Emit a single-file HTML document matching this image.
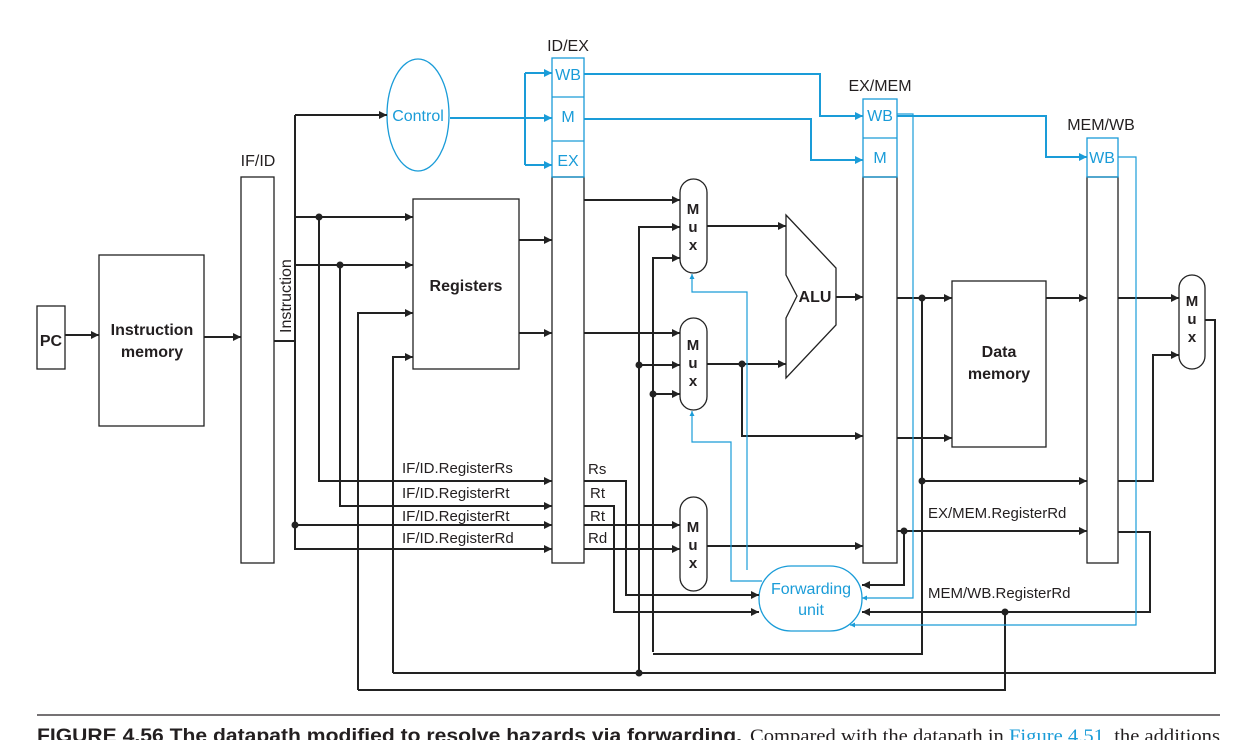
<!DOCTYPE html>
<html><head><meta charset="utf-8"><style>
body{margin:0;background:#fff;}
svg{display:block;font-family:"Liberation Sans",sans-serif;}
</style></head><body>
<svg width="1234" height="740" viewBox="0 0 1234 740" xmlns="http://www.w3.org/2000/svg">
<defs>
<marker id="ab" viewBox="0 0 10 10" refX="10" refY="5" markerWidth="7" markerHeight="5" markerUnits="userSpaceOnUse" orient="auto"><path d="M0,0L10,5L0,10z" fill="#1a9cd8"/></marker>
<marker id="ab2" viewBox="0 0 10 10" refX="10" refY="5" markerWidth="12" markerHeight="8" markerUnits="userSpaceOnUse" orient="auto"><path d="M0,0L10,5L0,10z" fill="#1a9cd8"/></marker>
<marker id="a2" viewBox="0 0 10 10" refX="10" refY="5" markerWidth="12" markerHeight="8" markerUnits="userSpaceOnUse" orient="auto"><path d="M0,0L10,5L0,10z" fill="#222"/></marker>
</defs>
<g fill="none" stroke="#222" stroke-width="1.3">
<rect x="37" y="306" width="28" height="63"/>
<rect x="99" y="255" width="105" height="171"/>
<rect x="241" y="177" width="33" height="386"/>
<rect x="413" y="199" width="106" height="170"/>
<rect x="552" y="177" width="32" height="386"/>
<rect x="863" y="177" width="34" height="386"/>
<rect x="952" y="281" width="94" height="166"/>
<rect x="1087" y="177" width="31" height="386"/>
<rect x="680" y="179" width="27" height="94" rx="13.5"/>
<rect x="680" y="318" width="27" height="92" rx="13.5"/>
<rect x="680" y="497" width="27" height="94" rx="13.5"/>
<rect x="1179" y="275" width="26" height="94" rx="13"/>
<path d="M786,215L836,268L836,325L786,378L786,318L797,296L786,275Z"/>
</g>
<g fill="none" stroke="#1a9cd8" stroke-width="1.3">
<ellipse cx="418" cy="115" rx="31" ry="56"/>
<rect x="552" y="58" width="32" height="119"/><line x1="552" y1="97" x2="584" y2="97"/><line x1="552" y1="141" x2="584" y2="141"/>
<rect x="863" y="99" width="34" height="78"/><line x1="863" y1="138" x2="897" y2="138"/>
<rect x="1087" y="138" width="31" height="39"/>
<rect x="759" y="566" width="103" height="65" rx="32"/>
</g>
<g fill="none" stroke="#222" stroke-width="2">
<line x1="65" y1="335" x2="99" y2="335" marker-end="url(#a2)"/>
<line x1="204" y1="337" x2="241" y2="337" marker-end="url(#a2)"/>
<polyline points="274,341 295,341"/>
<polyline points="295,115 295,546"/>
<line x1="295" y1="115" x2="387" y2="115" marker-end="url(#a2)"/>
<line x1="295" y1="217" x2="413" y2="217" marker-end="url(#a2)"/>
<line x1="295" y1="265" x2="413" y2="265" marker-end="url(#a2)"/>
<polyline points="358,690 358,313 413,313" marker-end="url(#a2)"/>
<polyline points="393,673 393,357 413,357" marker-end="url(#a2)"/>
<polyline points="319,217 319,481 552,481" marker-end="url(#a2)"/>
<polyline points="340,265 340,506 552,506" marker-end="url(#a2)"/>
<line x1="295" y1="525" x2="552" y2="525" marker-end="url(#a2)"/>
<polyline points="295,546 295,549 552,549" marker-end="url(#a2)"/>
<line x1="519" y1="240" x2="552" y2="240" marker-end="url(#a2)"/>
<line x1="519" y1="333" x2="552" y2="333" marker-end="url(#a2)"/>
<line x1="584" y1="200" x2="680" y2="200" marker-end="url(#a2)"/>
<line x1="584" y1="333" x2="680" y2="333" marker-end="url(#a2)"/>
<polyline points="639,673 639,227 680,227" marker-end="url(#a2)"/>
<polyline points="653,652 653,258 680,258" marker-end="url(#a2)"/>
<line x1="639" y1="365" x2="680" y2="365" marker-end="url(#a2)"/>
<line x1="653" y1="394" x2="680" y2="394" marker-end="url(#a2)"/>
<line x1="707" y1="226" x2="786" y2="226" marker-end="url(#a2)"/>
<line x1="707" y1="364" x2="786" y2="364" marker-end="url(#a2)"/>
<polyline points="742,364 742,436 863,436" marker-end="url(#a2)"/>
<line x1="836" y1="297" x2="863" y2="297" marker-end="url(#a2)"/>
<polyline points="584,481 626,481 626,595 759,595" marker-end="url(#a2)"/>
<polyline points="584,506 614,506 614,612 759,612" marker-end="url(#a2)"/>
<line x1="584" y1="525" x2="680" y2="525" marker-end="url(#a2)"/>
<line x1="584" y1="549" x2="680" y2="549" marker-end="url(#a2)"/>
<line x1="707" y1="546" x2="863" y2="546" marker-end="url(#a2)"/>
<line x1="897" y1="298" x2="952" y2="298" marker-end="url(#a2)"/>
<line x1="897" y1="438" x2="952" y2="438" marker-end="url(#a2)"/>
<polyline points="922,298 922,654 653,654"/>
<line x1="922" y1="481" x2="1087" y2="481" marker-end="url(#a2)"/>
<line x1="1046" y1="298" x2="1087" y2="298" marker-end="url(#a2)"/>
<line x1="897" y1="531" x2="1087" y2="531" marker-end="url(#a2)"/>
<polyline points="904,531 904,585 862,585" marker-end="url(#a2)"/>
<line x1="1118" y1="298" x2="1179" y2="298" marker-end="url(#a2)"/>
<polyline points="1118,481 1153,481 1153,355 1179,355" marker-end="url(#a2)"/>
<polyline points="1118,532 1150,532 1150,612 862,612" marker-end="url(#a2)"/>
<polyline points="1005,612 1005,690 358,690"/>
<polyline points="1205,320 1215,320 1215,673 393,673"/>
</g>
<g fill="#222">
<circle cx="319" cy="217" r="3.5"/><circle cx="340" cy="265" r="3.5"/><circle cx="295" cy="525" r="3.5"/>
<circle cx="639" cy="365" r="3.5"/><circle cx="653" cy="394" r="3.5"/><circle cx="639" cy="673" r="3.5"/>
<circle cx="742" cy="364" r="3.5"/><circle cx="922" cy="298" r="3.5"/><circle cx="922" cy="481" r="3.5"/>
<circle cx="904" cy="531" r="3.5"/><circle cx="1005" cy="612" r="3.5"/>
</g>
<g fill="none" stroke="#1a9cd8" stroke-width="2">
<line x1="450" y1="118" x2="552" y2="118" marker-end="url(#ab2)"/>
<polyline points="525,73 525,165"/>
<line x1="525" y1="73" x2="552" y2="73" marker-end="url(#ab2)"/>
<line x1="525" y1="165" x2="552" y2="165" marker-end="url(#ab2)"/>
<polyline points="584,74 820,74 820,116 863,116" marker-end="url(#ab2)"/>
<polyline points="584,119 811,119 811,160 863,160" marker-end="url(#ab2)"/>
<polyline points="897,116 1046,116 1046,157 1087,157" marker-end="url(#ab2)"/>
</g>
<g fill="none" stroke="#1a9cd8" stroke-width="1.2">
<polyline points="747,570 747,292 692,292 692,274" marker-end="url(#ab)"/>
<polyline points="762,581 731,581 731,442 692,442 692,411" marker-end="url(#ab)"/>
<polyline points="897,114 913,114 913,598 862,598" marker-end="url(#ab)"/>
<polyline points="1118,157 1136,157 1136,625 850,625" marker-end="url(#ab)"/>
</g>
<g fill="#231f20" font-size="16">
<text x="258" y="166" text-anchor="middle">IF/ID</text>
<text x="568" y="51" text-anchor="middle">ID/EX</text>
<text x="880" y="91" text-anchor="middle">EX/MEM</text>
<text x="1101" y="130" text-anchor="middle">MEM/WB</text>
<text x="291" y="333" transform="rotate(-90 291 333)">Instruction</text>
<text x="402" y="473" font-size="15">IF/ID.RegisterRs</text>
<text x="402" y="498" font-size="15">IF/ID.RegisterRt</text>
<text x="402" y="521" font-size="15">IF/ID.RegisterRt</text>
<text x="402" y="543" font-size="15">IF/ID.RegisterRd</text>
<text x="588" y="474" font-size="15">Rs</text>
<text x="590" y="498" font-size="15">Rt</text>
<text x="590" y="521" font-size="15">Rt</text>
<text x="588" y="543" font-size="15">Rd</text>
<text x="928" y="518" font-size="15">EX/MEM.RegisterRd</text>
<text x="928" y="598" font-size="15">MEM/WB.RegisterRd</text>
</g>
<g fill="#231f20" font-size="16" font-weight="bold" text-anchor="middle">
<text x="51" y="346">PC</text>
<text x="152" y="335">Instruction</text>
<text x="152" y="357">memory</text>
<text x="466" y="291">Registers</text>
<text x="999" y="357">Data</text>
<text x="999" y="379">memory</text>
<text x="815" y="302">ALU</text>
<g font-size="15"><text x="693" y="214">M</text><text x="693" y="232">u</text><text x="693" y="250">x</text>
<text x="693" y="350">M</text><text x="693" y="368">u</text><text x="693" y="386">x</text>
<text x="693" y="532">M</text><text x="693" y="550">u</text><text x="693" y="568">x</text>
<text x="1192" y="306">M</text><text x="1192" y="324">u</text><text x="1192" y="342">x</text></g>
</g>
<g fill="#1a9cd8" font-size="16" text-anchor="middle">
<text x="418" y="121">Control</text>
<text x="568" y="80">WB</text><text x="568" y="122">M</text><text x="568" y="166">EX</text>
<text x="880" y="121">WB</text><text x="880" y="163">M</text>
<text x="1102" y="163">WB</text>
<text x="811" y="594">Forwarding</text><text x="811" y="615">unit</text>
</g>
<line x1="37" y1="715" x2="1220" y2="715" stroke="#231f20" stroke-width="1.3"/>
<text x="37" y="742" font-size="19" font-weight="bold" fill="#231f20" textLength="705" lengthAdjust="spacingAndGlyphs">FIGURE 4.56    The datapath modified to resolve hazards via forwarding.</text>
<text x="750" y="742" font-size="19" font-family="Liberation Serif" fill="#231f20" textLength="470" lengthAdjust="spacingAndGlyphs">Compared with the datapath in <tspan fill="#1a9cd8">Figure 4.51</tspan>, the additions</text>
</svg>
</body></html>
